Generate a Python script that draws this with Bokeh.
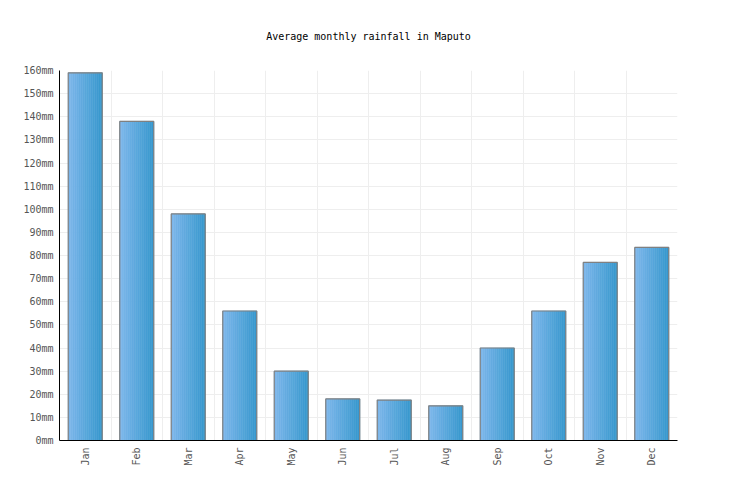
import numpy as np
from bokeh.plotting import figure
from bokeh.models import ColumnDataSource, FixedTicker, PrintfTickFormatter, Range1d, Title
from bokeh.embed import file_html
from bokeh.resources import INLINE

months = ["Jan", "Feb", "Mar", "Apr", "May", "Jun", "Jul", "Aug", "Sep", "Oct", "Nov", "Dec"]
rainfall = [159, 138, 98, 56, 30, 18, 17.5, 15, 40, 56, 77, 83.5]
y_ticks = list(range(0, 170, 10))
title_text = "Average monthly rainfall in Maputo"

FONT = "DejaVu Sans Mono"
centers = [i + 0.5 for i in range(len(months))]
src = ColumnDataSource(dict(x=centers, top=rainfall))

p = figure(width=736, height=500, output_backend="svg", toolbar_location=None,
           x_range=Range1d(0, len(months)), y_range=Range1d(0, 160),
           min_border_left=59, min_border_right=59, min_border_top=70, min_border_bottom=60)
p.outline_line_color = None

# spacer between title and frame, then the title itself
p.add_layout(Title(text=" ", text_font_size="24px", standoff=0), "above")
p.add_layout(Title(text=title_text, align="center", text_font=FONT, text_font_size="10px",
                   text_font_style="normal", text_color="#000000", standoff=0), "above")

# gradient bars as thin strips
bar_w = 0.66
n = 17
c0 = np.array([0x7d, 0xb7, 0xeb])
c1 = np.array([0x38, 0x98, 0xce])
sw = bar_w / n
for k in range(n):
    t = k / (n - 1)
    col = "#%02x%02x%02x" % tuple(int(round(v)) for v in c0 + (c1 - c0) * t)
    off = -bar_w / 2 + sw * (k + 0.5)
    xs = [c + off for c in centers]
    p.vbar(x=xs, top=rainfall, width=sw, bottom=0, fill_color=col,
           line_color=col, line_width=0.6)
p.vbar(x="x", top="top", width=bar_w, bottom=0, source=src, fill_color=None,
       line_color="#808080", line_width=1.2)

p.xaxis.ticker = FixedTicker(ticks=centers)
p.xaxis.major_label_overrides = {c: m for c, m in zip(centers, months)}
p.xaxis.major_label_orientation = np.pi / 2
p.yaxis.ticker = FixedTicker(ticks=y_ticks)
p.yaxis.formatter = PrintfTickFormatter(format="%dmm")

for ax in (p.xaxis[0], p.yaxis[0]):
    ax.axis_line_color = "#000000"
    ax.axis_line_width = 1
    ax.major_tick_line_color = None
    ax.minor_tick_line_color = None
    ax.major_tick_out = 0
    ax.major_tick_in = 0
    ax.major_label_text_font = FONT
    ax.major_label_text_font_size = "10px"
    ax.major_label_text_color = "#555555"
p.yaxis.major_label_standoff = 6
p.xaxis.major_label_standoff = 7

p.xgrid.ticker = FixedTicker(ticks=list(range(len(months) + 1)))
p.ygrid.ticker = FixedTicker(ticks=y_ticks)
p.xgrid.grid_line_color = "#eeeeee"
p.ygrid.grid_line_color = "#eeeeee"

open("out.html", "w").write(file_html(p, INLINE))
